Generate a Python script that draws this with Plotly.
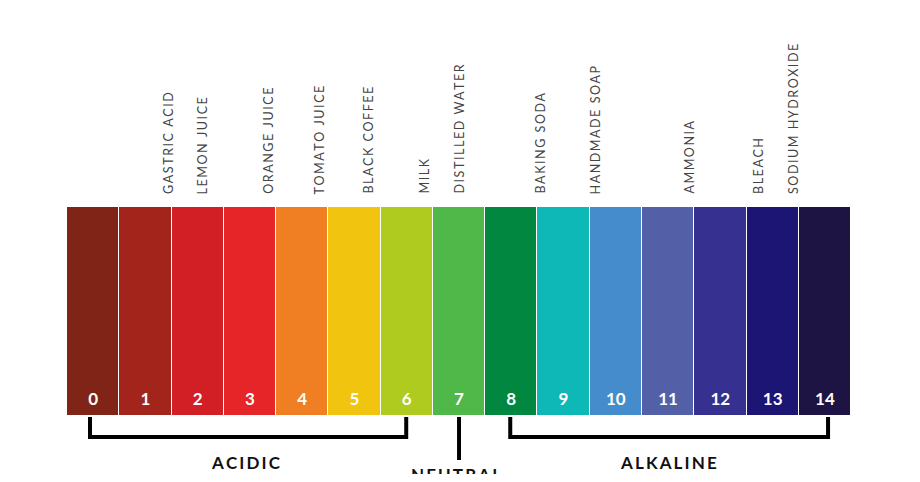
import plotly.graph_objects as go

ph_values = list(range(15))
ph_colors = ["#7f2417", "#a3241b", "#d21f26", "#e52528", "#ef7f22", "#f1c40f", "#b0cb1f",
             "#50b848", "#01873f", "#0db8b6", "#448ccb", "#5360a8", "#363090", "#1c1573", "#1e1443"]
substances = ["GASTRIC ACID", "LEMON JUICE", "ORANGE JUICE", "TOMATO JUICE", "BLACK COFFEE",
              "MILK", "DISTILLED WATER", "BAKING SODA", "HANDMADE SOAP", "AMMONIA", "BLEACH",
              "SODIUM HYDROXIDE"]
substance_ph = [1.93, 2.6, 3.84, 4.84, 5.76, 6.83, 7.5, 9.05, 10.12, 11.9, 13.22, 13.89]

PX = 52.27  # pixels per pH unit
X0 = 67
TOP, BOTTOM = 207, 416
OFF = 8  # page body margin
FONT = "Lato"


def spaced(s):
    return "\u2009".join(s)


fig = go.Figure()
fig.add_trace(go.Bar(
    x=[v + 0.5 for v in ph_values], y=[BOTTOM - TOP] * 15, base=TOP, width=1,
    marker=dict(color=ph_colors, line=dict(color="white", width=1)),
    hoverinfo="skip",
))
fig.add_trace(go.Scatter(
    x=[v + 0.5 for v in ph_values], y=[401] * 15, mode="text",
    text=[str(v) for v in ph_values],
    textfont=dict(family=FONT, size=17, color="white", weight="bold"),
    hoverinfo="skip",
))

annotations = []
for name, pos in zip(substances, substance_ph):
    annotations.append(dict(
        x=pos, y=196, xref="x", yref="y", text=spaced(name), textangle=-90,
        showarrow=False, yanchor="bottom", xanchor="center",
        font=dict(family=FONT, size=12.5, color="#444"),
    ))
for text, pos, ypix in [("ACIDIC", 3.42, 462), ("NEUTRAL", 7.45, 474), ("ALKALINE", 11.5, 462)]:
    annotations.append(dict(
        x=pos, y=ypix, xref="x", yref="y", text=spaced(text), showarrow=False,
        font=dict(family=FONT, size=17, color="#111", weight="bold"),
    ))

line = dict(color="black", width=4)
shapes = [
    dict(type="path", path="M 0.44 417 L 0.44 437 L 6.49 437 L 6.49 417", line=line),
    dict(type="line", x0=7.5, x1=7.5, y0=417, y1=460, line=line),
    dict(type="path", path="M 8.48 417 L 8.48 437 L 14.56 437 L 14.56 417", line=line),
]

fig.update_layout(
    width=920 - 2 * OFF, height=482 - 2 * OFF, margin=dict(l=0, r=0, t=0, b=0),
    plot_bgcolor="white", paper_bgcolor="white", showlegend=False,
    xaxis=dict(range=[(OFF - X0) / PX, (920 - OFF - X0) / PX], visible=False, fixedrange=True),
    yaxis=dict(range=[482 - OFF, OFF], visible=False, fixedrange=True),
    annotations=annotations, shapes=shapes, bargap=0,
)
fig.write_html("out.html")
